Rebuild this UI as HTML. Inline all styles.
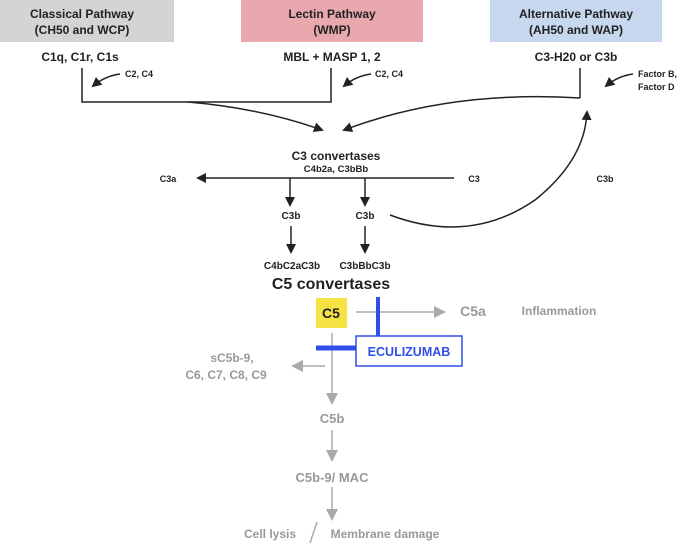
<!DOCTYPE html>
<html><head><style>
html,body{margin:0;padding:0;background:#fff;}
svg{display:block;font-family:"Liberation Sans",Arial,sans-serif;font-weight:bold;}
</style></head><body>
<svg width="685" height="544" viewBox="0 0 685 544" xmlns="http://www.w3.org/2000/svg">
<defs>
<marker id="ab" markerWidth="10" markerHeight="10" refX="8" refY="5" orient="auto" markerUnits="userSpaceOnUse"><path d="M0,0 L10,5 L0,10 z" fill="#222"/></marker>
<marker id="ag" markerWidth="12" markerHeight="12" refX="10" refY="6" orient="auto" markerUnits="userSpaceOnUse"><path d="M0,0 L12,6 L0,12 z" fill="#aaa"/></marker>
</defs>
<rect x="0" y="0" width="174" height="42" fill="#d4d4d4"/>
<rect x="241" y="0" width="182" height="42" fill="#e8a8ae"/>
<rect x="490" y="0" width="172" height="42" fill="#c6d7ee"/>
<g font-size="12" text-anchor="middle" fill="#222">
<text x="82" y="18">Classical Pathway</text><text x="82" y="34">(CH50 and WCP)</text>
<text x="332" y="18">Lectin Pathway</text><text x="332" y="34">(WMP)</text>
<text x="576" y="18">Alternative Pathway</text><text x="576" y="34">(AH50 and WAP)</text>
<text x="80" y="61">C1q, C1r, C1s</text>
<text x="332" y="61">MBL + MASP 1, 2</text>
<text x="576" y="61">C3-H20 or C3b</text>
<text x="336" y="160">C3 convertases</text>
<text x="331" y="289" font-size="16">C5 convertases</text>
</g>
<g font-size="9" fill="#222">
<text x="125" y="77">C2, C4</text>
<text x="375" y="77">C2, C4</text>
<text x="638" y="77">Factor B,</text>
<text x="638" y="90">Factor D</text>
<text x="336" y="172" text-anchor="middle" font-size="9.5">C4b2a, C3bBb</text>
<text x="168" y="182" text-anchor="middle">C3a</text>
<text x="474" y="182" text-anchor="middle">C3</text>
<text x="605" y="182" text-anchor="middle">C3b</text>
<text x="291" y="219" text-anchor="middle" font-size="10">C3b</text>
<text x="365" y="219" text-anchor="middle" font-size="10">C3b</text>
<text x="292" y="269" text-anchor="middle" font-size="10">C4bC2aC3b</text>
<text x="365" y="269" text-anchor="middle" font-size="10">C3bBbC3b</text>
</g>
<g stroke="#222" stroke-width="1.5" fill="none">
<path d="M120,74 Q105,76 93,86" marker-end="url(#ab)"/>
<path d="M371,74 Q356,76 344,86" marker-end="url(#ab)"/>
<path d="M633,74 Q618,76 606,86" marker-end="url(#ab)"/>
<path d="M82,68 V102 H331 V68"/>
<path d="M580,68 V98"/>
<path d="M188,102 Q260,108 322,130" marker-end="url(#ab)"/>
<path d="M580,98 Q450,90 344,130" marker-end="url(#ab)"/>
<path d="M454,178 H198" marker-end="url(#ab)"/>
<path d="M290,178 V205" marker-end="url(#ab)"/>
<path d="M365,178 V205" marker-end="url(#ab)"/>
<path d="M291,226 V252" marker-end="url(#ab)"/>
<path d="M365,226 V252" marker-end="url(#ab)"/>
<path d="M390,215 Q470,245 535,200 Q585,160 587,112" marker-end="url(#ab)"/>
</g>
<rect x="316" y="298" width="31" height="30" fill="#f7e244"/>
<text x="331" y="318" font-size="14" text-anchor="middle" fill="#222">C5</text>
<g stroke="#aaa" stroke-width="1.5" fill="none">
<path d="M356,312 H444" marker-end="url(#ag)"/>
<path d="M332,333 V403" marker-end="url(#ag)"/>
<path d="M325,366 H293" marker-end="url(#ag)"/>
<path d="M332,430 V460" marker-end="url(#ag)"/>
<path d="M332,487 V519" marker-end="url(#ag)"/>
<path d="M317,522 L310,543"/>
</g>
<g fill="#999" text-anchor="middle" font-size="12">
<text x="473" y="316" font-size="14">C5a</text>
<text x="559" y="315">Inflammation</text>
<text x="232" y="362">sC5b-9,</text>
<text x="226" y="379">C6, C7, C8, C9</text>
<text x="332" y="423" font-size="13">C5b</text>
<text x="332" y="482" font-size="13">C5b-9/ MAC</text>
<text x="270" y="538">Cell lysis</text>
<text x="385" y="538">Membrane damage</text>
</g>
<line x1="378" y1="297" x2="378" y2="337" stroke="#2f4fe8" stroke-width="4"/>
<line x1="316" y1="348" x2="356" y2="348" stroke="#2f4fe8" stroke-width="5"/>
<rect x="356" y="336" width="106" height="30" fill="#fff" stroke="#2f4fe8" stroke-width="1.5"/>
<text x="409" y="356" font-size="12.5" text-anchor="middle" fill="#2f4fe8">ECULIZUMAB</text>
</svg>
</body></html>
